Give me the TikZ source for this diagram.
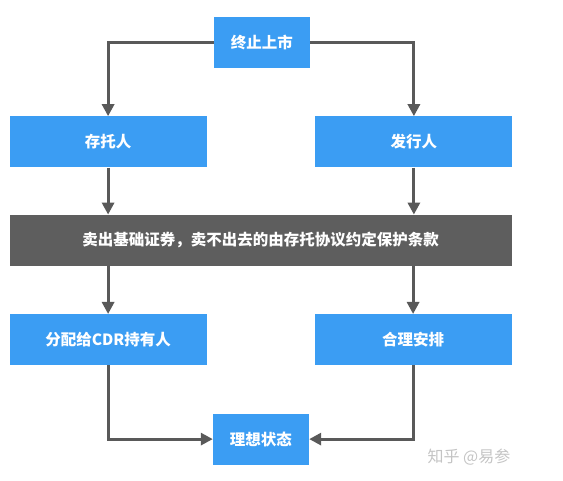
\documentclass[tikz,border=0pt]{standalone}
\usepackage{fontspec}
\usepackage{xcolor}
\usetikzlibrary{arrows.meta,positioning}
\setmainfont{Noto Sans CJK SC}
\definecolor{boxcolor}{HTML}{3B9DF3}
\definecolor{barcolor}{HTML}{5E5E5E}
\definecolor{linecolor}{HTML}{595959}
\definecolor{markcolor}{HTML}{C4C4C4}
\tikzset{
    box/.style={
        shape=rectangle,
        fill=boxcolor,
        text=white,
        align=center,
        minimum height=51pt,
        minimum width=197pt,
        inner sep=0pt,
        font=\fontsize{15.5}{18}\selectfont\bfseries
    },
    bar/.style={
        box,
        fill=barcolor,
        minimum width=502pt
    },
    flow/.style={
        draw=linecolor,
        line width=3pt,
        -{Triangle[length=12pt,width=12pt]}
    }
}
\begin{document}
\begin{tikzpicture}
    \useasboundingbox (-262pt,42.5pt) rectangle (301pt,-438.5pt);

    \node[box, minimum width=96pt] (stop) {终止上市};

    \node[box, below left=48pt and 7pt of stop] (dep) {存托人};
    \node[box, below right=48pt and 5pt of stop] (iss) {发行人};

    \node[bar, below right=47pt and 0pt of dep.south west] (sell) {卖出基础证券，卖不出去的由存托协议约定保护条款};

    \node[box, below right=48pt and 0pt of sell.south west] (hold) {分配给CDR持有人};
    \node[box, below left=48pt and 0pt of sell.south east] (plan) {合理安排};

    \node[box, minimum width=96pt, below right=48pt and 6pt of hold.south east] (ideal) {理想状态};

    \node[text=markcolor, font=\fontsize{16}{18}\selectfont] (mark) at (207pt,-415pt) {知乎 @易参};

    \begin{scope} % top
    	\draw[flow] (stop.west) -| (dep);
    	\draw[flow] (stop.east) -| (iss);
    \end{scope}
    \begin{scope} % middle
    	\draw[flow] (dep) -- (dep |- sell.north);
    	\draw[flow] (iss) -- (iss |- sell.north);
    	\draw[flow] (sell.south -| hold) -- (hold);
    	\draw[flow] (sell.south -| plan) -- (plan);
    \end{scope}
    \begin{scope} % bottom
    	\draw[flow] (hold) |- (ideal);
    	\draw[flow] (plan) |- (ideal);
    \end{scope}
\end{tikzpicture}
\end{document}
